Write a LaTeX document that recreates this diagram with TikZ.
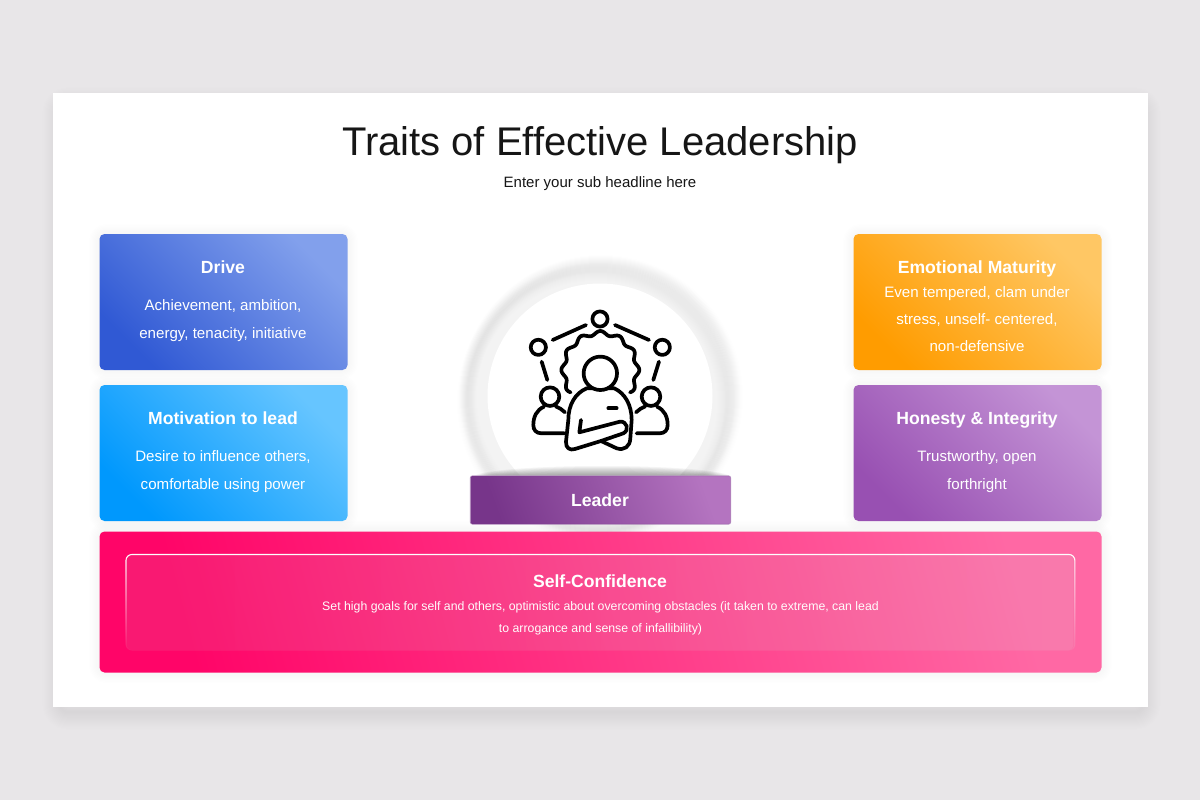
\documentclass[tikz,border=0pt]{standalone}
\usepackage{fontspec}
\setmainfont{Liberation Sans}
\usetikzlibrary{fadings}
\definecolor{pagebg}{HTML}{E8E6E8}
\definecolor{inkc}{HTML}{161616}
\definecolor{driveA}{HTML}{3059D4}
\definecolor{driveB}{HTML}{82A0EC}
\definecolor{motA}{HTML}{0098FD}
\definecolor{motB}{HTML}{66C5FF}
\definecolor{emoA}{HTML}{FF9C00}
\definecolor{emoB}{HTML}{FFC764}
\definecolor{honA}{HTML}{9850B2}
\definecolor{honB}{HTML}{C494D6}
\definecolor{leadA}{HTML}{77358A}
\definecolor{leadB}{HTML}{B474C0}
\definecolor{selfA}{HTML}{FF0568}
\definecolor{selfB}{HTML}{FF68A4}
\tikzfading[name=fadedown, top color=transparent!0, bottom color=transparent!100]
\tikzfading[name=faderight, left color=transparent!100, right color=transparent!0]
\tikzset{
  card/.style={rounded corners=5pt,inner sep=0pt,minimum width=248pt,minimum height=136pt},
  grad/.style 2 args={left color=#1,right color=#2,shading angle=135},
  ttl/.style={anchor=base,text=white,font=\fontsize{17.6}{20}\selectfont\bfseries,inner sep=0pt},
  txt/.style={anchor=base,text=white,font=\fontsize{15.1}{18}\selectfont,inner sep=0pt},
  sml/.style={anchor=base,text=white!95!pink,font=\fontsize{12.3}{15}\selectfont,inner sep=0pt},
  ico/.style={line width=3.7pt,line cap=round,line join=round,black}
}
\newcommand{\softbox}[4]{%
  \foreach \i in {1,...,9}{\draw[black,opacity=.002,line width=2.4*\i pt,rounded corners=6pt] (#1,#2) rectangle (#3,#4);}}
\begin{document}
\begin{tikzpicture}[x=1pt,y=-1pt]
\useasboundingbox (0,0) rectangle (1200,800);
\fill[pagebg] (0,0) rectangle (1200,800);
% slide shadow
\foreach \i in {1,...,16}{\draw[black,opacity=.0045,line width=2.2*\i pt,rounded corners=8pt] (60,105) rectangle (1143,712);}
\fill[white] (53,93) rectangle (1148,707);
% title
\node[anchor=base,text=inkc,font=\fontsize{40}{44}\selectfont,inner sep=0pt] (title) at (600,155) {Traits of Effective Leadership};
\node[anchor=base,text=inkc,font=\fontsize{15}{18}\selectfont,inner sep=0pt] (subtitle) at (600,187.5) {Enter your sub headline here};
% halo
\foreach \i in {1,...,12}{\fill[black,opacity=.004] (600,396) circle (128pt+1pt*\i);}
\foreach \i in {1,...,9}{\draw[black,opacity=.002,line width=2*\i pt] (601,397) circle (133pt);}
\foreach \i in {1,...,9}{\draw[black,opacity=.005,line width=2*\i pt] (596,402) circle (130pt);}
\fill[white] (600,396) circle (112.5pt);
% icon
\begin{scope}[xshift=525pt,yshift=-305pt,x=.3333pt,y=-.3333pt,ico]
  \draw (225,42) circle (7.6pt);
  \draw (40,127) circle (7.6pt);
  \draw (412,127) circle (7.6pt);
  \draw (83,105) -- (183,60);
  \draw (270,60) -- (372,105);
  \draw (50,170) -- (67,225);
  \draw (402,170) -- (385,225);
  \draw plot[domain=-37:217,samples=130,smooth] ({226+(111+6*cos(12*\x))*cos(\x)},{195-(111+6*cos(12*\x))*sin(\x)});
  \draw (75,275) circle (9.3pt);
  \draw (378,275) circle (9.3pt);
  \draw (118,385) -- (50,385) .. controls (33,385) and (25,375) .. (25,360) .. controls (25,335) and (35,315) .. (57,305);
  \draw (92,304) .. controls (102,308) and (112,314) .. (120,322);
  \draw (335,385) -- (403,385) .. controls (420,385) and (428,375) .. (428,360) .. controls (428,335) and (418,315) .. (396,305);
  \draw (361,304) .. controls (351,308) and (341,314) .. (333,322);
  \draw[fill=white] (185,250) .. controls (150,265) and (130,300) .. (130,345) -- (123,410) .. controls (122,430) and (135,437) .. (150,432) -- (228,408) -- (275,430) .. controls (298,437) and (315,425) .. (316,400) -- (320,345) .. controls (320,300) and (300,265) .. (268,250) -- cycle;
  \draw[fill=white] (226,205) circle (16.7pt);
  \draw (168,345) -- (163,382) -- (285,350) .. controls (305,348) and (315,375) .. (295,385) -- (228,408);
  \draw (250,310) -- (275,310);
\end{scope}
% shadow over the circle, above the plinth
\begin{scope}
  \clip (440,440) rectangle (760,476.5);
  \foreach \i in {1,...,10}{\fill[black,opacity=.04] (602,477) ellipse ({130pt-2pt*\i} and {12pt-1.0pt*\i});}
\end{scope}
% cards
\softbox{100}{235}{347}{369}
\softbox{100}{386}{347}{520}
\softbox{854}{235}{1101}{369}
\softbox{854}{386}{1101}{520}
\softbox{100}{532}{1101}{672}
\node[card,grad={driveA}{driveB}] (drive) at (223.5,302) {};
\node[card,grad={motA}{motB}] (motivation) at (223.5,453) {};
\node[card,grad={emoA}{emoB}] (emotional) at (977.5,302) {};
\node[card,grad={honA}{honB}] (honesty) at (977.5,453) {};
\node[rounded corners=2pt,inner sep=0pt,minimum width=260pt,minimum height=48pt,left color=leadA,right color=leadB,shading angle=110] (leader) at (600.5,500) {};
\draw[white,opacity=.45,line width=.7pt] (leader.north west) -- (leader.north east);
\draw[leadA,opacity=.5,line width=.7pt,rounded corners=2pt] (leader.south west) rectangle (leader.north east);
\node[card,minimum width=1002pt,minimum height=141pt,left color=selfA,right color=selfB,shading angle=105] (self) at (600.5,602) {};
% glass panel
\fill[white!80!black,fill opacity=.1,rounded corners=6pt] (126,554.5) rectangle (1075,650.5);
\fill[white,fill opacity=.05,rounded corners=6pt,path fading=faderight] (126,554.5) rectangle (1075,650.5);
\draw[white,line width=1.1pt,rounded corners=6pt,path fading=fadedown] (126,554.5) rectangle (1075,650.5);
% texts
\node[ttl] (t1) at (223,273) {Drive};
\node[txt] (t1a) at (223,310.5) {Achievement, ambition,};
\node[txt] (t1b) at (223,338) {energy, tenacity, initiative};
\node[ttl] (t2) at (223,424) {Motivation to lead};
\node[txt] (t2a) at (223,461.5) {Desire to influence others,};
\node[txt] (t2b) at (223,489) {comfortable using power};
\node[ttl] (t3) at (977,273) {Emotional Maturity};
\node[txt] (t3a) at (977,297) {Even tempered, clam under};
\node[txt] (t3b) at (977,324.5) {stress, unself- centered,};
\node[txt] (t3c) at (977,351.5) {non-defensive};
\node[ttl] (t4) at (977,424) {Honesty \& Integrity};
\node[txt] (t4a) at (977,461.5) {Trustworthy, open};
\node[txt] (t4b) at (977,489) {forthright};
\node[ttl] (t5) at (600,506) {Leader};
\node[ttl] (t6) at (600,587) {Self-Confidence};
\node[sml] (t6a) at (600.5,610.5) {Set high goals for self and others, optimistic about overcoming obstacles (it taken to extreme, can lead};
\node[sml] (t6b) at (600.5,632) {to arrogance and sense of infallibility)};
\end{tikzpicture}
\end{document}
